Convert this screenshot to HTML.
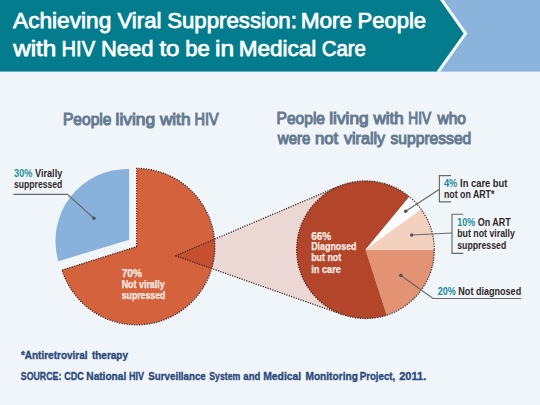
<!DOCTYPE html>
<html><head><meta charset="utf-8">
<style>
html,body{margin:0;padding:0;width:540px;height:405px;overflow:hidden;background:#f0f5fa;}
svg{display:block;}
text{font-family:"Liberation Sans",sans-serif;}
</style></head>
<body>
<svg width="540" height="405" viewBox="0 0 540 405">
<rect x="0" y="0" width="540" height="405" fill="#f0f5fa"/>
<rect x="0" y="0" width="540" height="71.6" fill="#8ab4db"/>
<polygon points="0,0 443.7,0 467.4,33.5 440.3,71.6 0,71.6" fill="#f6fafd"/>
<polygon points="0,0 440,0 463.7,33.5 436.6,71.6 0,71.6" fill="#037d8e"/>
<g fill="#ffffff" stroke="#ffffff" stroke-width="0.75" font-weight="normal" font-size="22">
<text x="13.08" y="28.4" textLength="98.15" lengthAdjust="spacingAndGlyphs">Achieving</text>
<text x="117.43" y="28.4" textLength="44.12" lengthAdjust="spacingAndGlyphs">Viral</text>
<text x="167.22" y="28.4" textLength="129.59" lengthAdjust="spacingAndGlyphs">Suppression:</text>
<text x="300.67" y="28.4" textLength="51.51" lengthAdjust="spacingAndGlyphs">More</text>
<text x="357.52" y="28.4" textLength="68.53" lengthAdjust="spacingAndGlyphs">People</text>
<text x="13.16" y="55.6" textLength="43.19" lengthAdjust="spacingAndGlyphs">with</text>
<text x="61.57" y="55.6" textLength="33.59" lengthAdjust="spacingAndGlyphs">HIV</text>
<text x="101.03" y="55.6" textLength="52.36" lengthAdjust="spacingAndGlyphs">Need</text>
<text x="159.46" y="55.6" textLength="20.02" lengthAdjust="spacingAndGlyphs">to</text>
<text x="185.20" y="55.6" textLength="24.55" lengthAdjust="spacingAndGlyphs">be</text>
<text x="214.98" y="55.6" textLength="19.08" lengthAdjust="spacingAndGlyphs">in</text>
<text x="238.78" y="55.6" textLength="77.60" lengthAdjust="spacingAndGlyphs">Medical</text>
<text x="321.69" y="55.6" textLength="44.09" lengthAdjust="spacingAndGlyphs">Care</text>
</g>
<g fill="#667b92" stroke="#667b92" stroke-width="1.05" font-weight="normal" font-size="16.5">
<text x="63.00" y="125.3" textLength="48.42" lengthAdjust="spacingAndGlyphs">People</text>
<text x="115.61" y="125.3" textLength="39.54" lengthAdjust="spacingAndGlyphs">living</text>
<text x="159.90" y="125.3" textLength="30.54" lengthAdjust="spacingAndGlyphs">with</text>
<text x="194.49" y="125.3" textLength="24.10" lengthAdjust="spacingAndGlyphs">HIV</text>
<text x="276.50" y="123.6" textLength="48.52" lengthAdjust="spacingAndGlyphs">People</text>
<text x="329.21" y="123.6" textLength="39.54" lengthAdjust="spacingAndGlyphs">living</text>
<text x="373.50" y="123.6" textLength="30.23" lengthAdjust="spacingAndGlyphs">with</text>
<text x="408.30" y="123.6" textLength="22.78" lengthAdjust="spacingAndGlyphs">HIV</text>
<text x="437.40" y="123.6" textLength="28.68" lengthAdjust="spacingAndGlyphs">who</text>
<text x="277.80" y="144" textLength="32.60" lengthAdjust="spacingAndGlyphs">were</text>
<text x="314.97" y="144" textLength="23.23" lengthAdjust="spacingAndGlyphs">not</text>
<text x="343.92" y="144" textLength="41.24" lengthAdjust="spacingAndGlyphs">virally</text>
<text x="390.54" y="144" textLength="80.79" lengthAdjust="spacingAndGlyphs">suppressed</text>
</g>
<polygon points="175.50,255.80 338.55,186.40 365.50,249.70 342.67,314.60" fill="#ebd8d5"/>
<path d="M136.60 246.60 L136.60 168.40 A78.2 78.2 0 1 1 62.02 270.12 Z" fill="#d4623d"/>
<clipPath id="orc"><path d="M136.60 246.60 L136.60 168.40 A78.2 78.2 0 1 1 62.02 270.12 Z"/></clipPath>
<polygon points="175.50,255.80 338.55,186.40 365.50,249.70 342.67,314.60" fill="#c4502f" clip-path="url(#orc)"/>
<path d="M136.60 246.60 L136.60 168.40 A78.2 78.2 0 1 1 62.02 270.12 Z" fill="none" stroke="#3a2a26" stroke-width="1.3" stroke-dasharray="1.2 1.3"/>
<path d="M129.1 239.8 L129.1 168.92 A72 72 0 0 0 58.4 261.2 Z" fill="#88b2db"/>
<line x1="175.50" y1="255.80" x2="338.55" y2="186.40" stroke="#3a2a26" stroke-width="1.3" stroke-dasharray="1.2 1.3"/>
<line x1="175.50" y1="255.80" x2="342.67" y2="314.60" stroke="#3a2a26" stroke-width="1.3" stroke-dasharray="1.2 1.3"/>
<path d="M365.50 249.70 L434.30 249.70 A68.8 68.8 0 0 1 386.76 315.13 Z" fill="#e39274" />
<path d="M365.50 249.70 L386.76 315.13 A68.8 68.8 0 1 1 409.35 196.69 Z" fill="#b3462a" />
<path d="M365.50 249.70 L409.35 196.69 A68.8 68.8 0 0 1 421.16 209.26 Z" fill="#fafcfd" />
<path d="M365.50 249.70 L421.16 209.26 A68.8 68.8 0 0 1 434.30 249.70 Z" fill="#f4d1bf" />
<circle cx="365.5" cy="249.7" r="68.8" fill="none" stroke="#3a2a26" stroke-width="1.3" stroke-dasharray="1.2 1.3"/>
<g stroke="#686868" stroke-width="1.15" fill="none">
<polyline points="13.3,194.4 67.4,194.4 93.9,218.3"/>
<polyline points="451,175.6 439.4,175.6 439.4,201.9 451,201.9"/>
<line x1="405.7" y1="211.2" x2="439.4" y2="189.3"/>
<polyline points="463.3,214.2 452,214.2 452,253.3 463.3,253.3"/>
<line x1="411.7" y1="235" x2="452" y2="233"/>
<polyline points="400.9,275.5 433,298.5 521.1,298.5"/>
</g>
<g fill="#555">
<circle cx="93.9" cy="218.3" r="1.8"/>
<circle cx="405.7" cy="211.2" r="1.8"/>
<circle cx="411.7" cy="235" r="1.8"/>
<circle cx="400.9" cy="275.5" r="1.8"/>
</g>
<g font-weight="bold" font-size="11.1" fill="#2f2929">
<text x="14.1" y="176.7" textLength="48.2" lengthAdjust="spacingAndGlyphs"><tspan fill="#1f8c99">30%</tspan> Virally</text>
<text x="14.1" y="188.2" textLength="48.2" lengthAdjust="spacingAndGlyphs">suppressed</text>
<text x="443.9" y="186.5" textLength="63.5" lengthAdjust="spacingAndGlyphs"><tspan fill="#1f8c99">4%</tspan> In care but</text>
<text x="443.9" y="197.8" textLength="50.5" lengthAdjust="spacingAndGlyphs">not on ART*</text>
<text x="457.2" y="225.8" textLength="53.6" lengthAdjust="spacingAndGlyphs"><tspan fill="#1f8c99">10%</tspan> On ART</text>
<text x="457.2" y="237.2" textLength="57.7" lengthAdjust="spacingAndGlyphs">but not virally</text>
<text x="457.2" y="248.8" textLength="49.1" lengthAdjust="spacingAndGlyphs">suppressed</text>
<text x="437.7" y="295" textLength="83.5" lengthAdjust="spacingAndGlyphs"><tspan fill="#1f8c99">20%</tspan> Not diagnosed</text>
</g>
<g font-weight="bold" font-size="11.4" fill="#f8eee6" stroke="#f8eee6" stroke-width="0.25">
<text x="121.7" y="276.6" textLength="20.4" lengthAdjust="spacingAndGlyphs">70%</text>
<text x="121.7" y="287.6" textLength="43.0" lengthAdjust="spacingAndGlyphs">Not virally</text>
<text x="121.7" y="298.6" textLength="43.7" lengthAdjust="spacingAndGlyphs">supressed</text>
<text x="311.2" y="239.6" textLength="20.1" lengthAdjust="spacingAndGlyphs">66%</text>
<text x="311.2" y="250.2" textLength="45.3" lengthAdjust="spacingAndGlyphs">Diagnosed</text>
<text x="311.2" y="261.2" textLength="30.0" lengthAdjust="spacingAndGlyphs">but not</text>
<text x="311.2" y="272.9" textLength="29.7" lengthAdjust="spacingAndGlyphs">in care</text>
</g>
<g fill="#2d4a7a" stroke="#2d4a7a" stroke-width="0.35" font-weight="bold" font-size="10.5">
<text x="20.90" y="358.5" textLength="66.69" lengthAdjust="spacingAndGlyphs">*Antiretroviral</text>
<text x="91.90" y="358.5" textLength="36.13" lengthAdjust="spacingAndGlyphs">therapy</text>
<text x="20.87" y="380.2" textLength="40.45" lengthAdjust="spacingAndGlyphs">SOURCE:</text>
<text x="64.16" y="380.2" textLength="19.46" lengthAdjust="spacingAndGlyphs">CDC</text>
<text x="86.35" y="380.2" textLength="39.84" lengthAdjust="spacingAndGlyphs">National</text>
<text x="128.92" y="380.2" textLength="15.01" lengthAdjust="spacingAndGlyphs">HIV</text>
<text x="148.34" y="380.2" textLength="57.46" lengthAdjust="spacingAndGlyphs">Surveillance</text>
<text x="209.27" y="380.2" textLength="30.94" lengthAdjust="spacingAndGlyphs">System</text>
<text x="243.35" y="380.2" textLength="16.96" lengthAdjust="spacingAndGlyphs">and</text>
<text x="263.13" y="380.2" textLength="38.08" lengthAdjust="spacingAndGlyphs">Medical</text>
<text x="305.45" y="380.2" textLength="52.41" lengthAdjust="spacingAndGlyphs">Monitoring</text>
<text x="359.67" y="380.2" textLength="35.65" lengthAdjust="spacingAndGlyphs">Project,</text>
<text x="399.15" y="380.2" textLength="27.07" lengthAdjust="spacingAndGlyphs">2011.</text>
</g>
</svg>
</body></html>
